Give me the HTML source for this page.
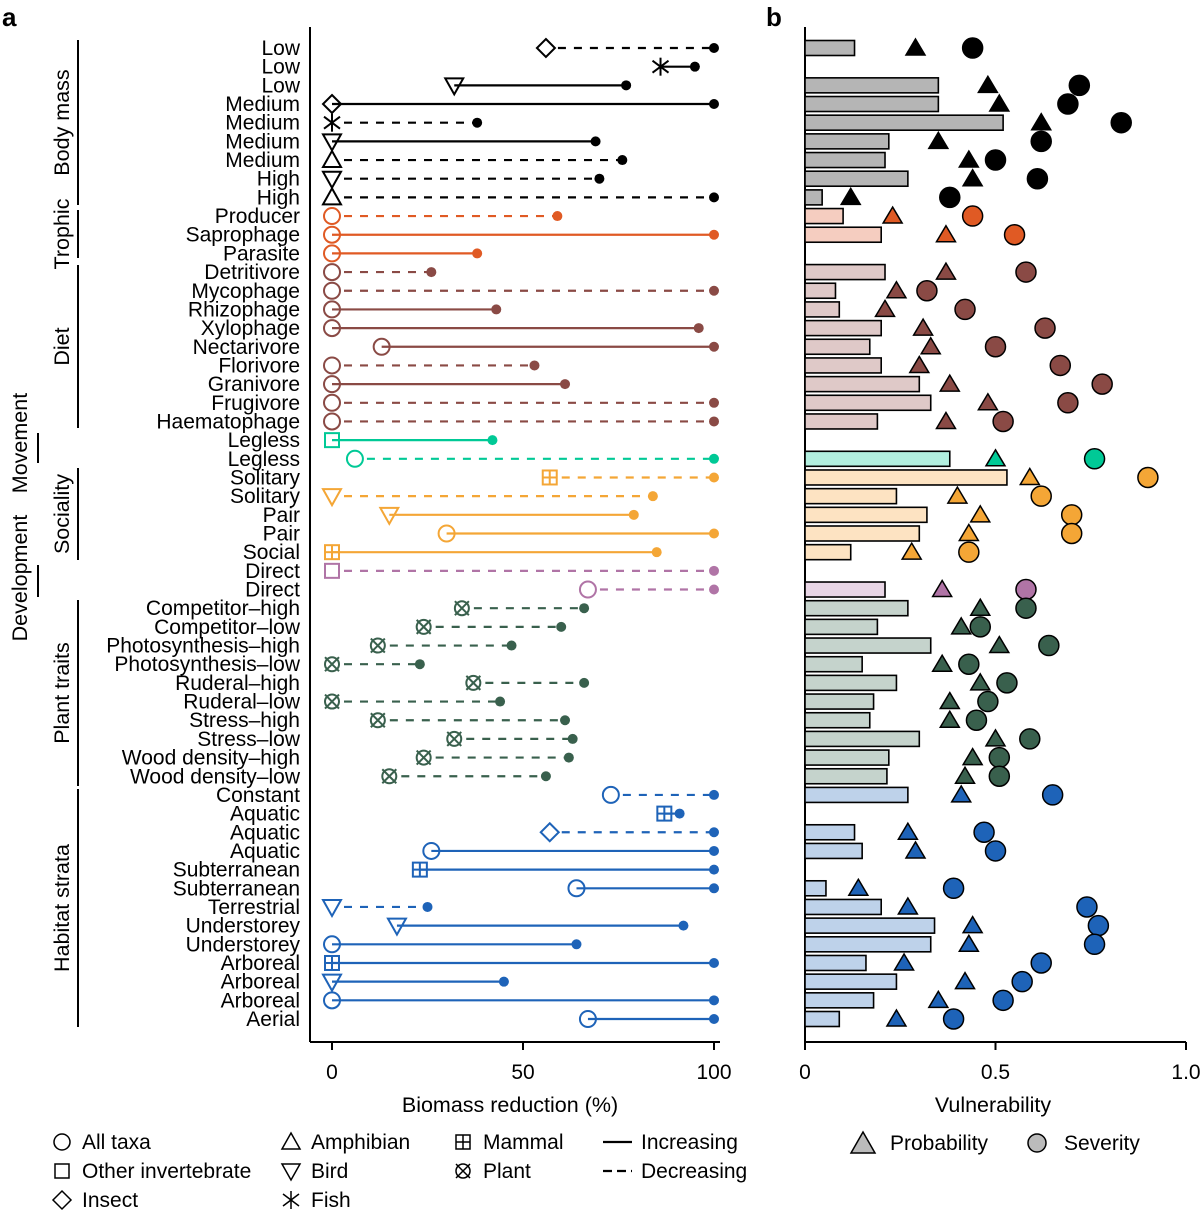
<!DOCTYPE html>
<html><head><meta charset="utf-8"><style>
html,body{margin:0;padding:0;background:#fff;}
svg{display:block;font-family:"Liberation Sans",Arial,sans-serif;}
</style></head><body>
<svg id="chart" width="1200" height="1212" viewBox="0 0 1200 1212" xmlns="http://www.w3.org/2000/svg">
<text x="2" y="26" font-size="26" font-weight="bold">a</text>
<text x="766" y="26" font-size="26" font-weight="bold">b</text>
<g id="groups"></g>
<g id="pa"></g>
<g id="pb"></g>
<g id="legend"></g>
</svg>
<script>
const labels=["Low","Low","Low","Medium","Medium","Medium","Medium","High","High","Producer","Saprophage","Parasite","Detritivore","Mycophage","Rhizophage","Xylophage","Nectarivore","Florivore","Granivore","Frugivore","Haematophage","Legless","Legless","Solitary","Solitary","Pair","Pair","Social","Direct","Direct","Competitor\u2013high","Competitor\u2013low","Photosynthesis\u2013high","Photosynthesis\u2013low","Ruderal\u2013high","Ruderal\u2013low","Stress\u2013high","Stress\u2013low","Wood density\u2013high","Wood density\u2013low","Constant","Aquatic","Aquatic","Aquatic","Subterranean","Subterranean","Terrestrial","Understorey","Understorey","Arboreal","Arboreal","Arboreal","Aerial"];
const groups=["k","k","k","k","k","k","k","k","k","o","o","o","d","d","d","d","d","d","d","d","d","t","t","s","s","s","s","s","p","p","g","g","g","g","g","g","g","g","g","g","b","b","b","b","b","b","b","b","b","b","b","b","b"];
const taxa=["ins","fish","bird","ins","fish","bird","amph","bird","amph","all","all","all","all","all","all","all","all","all","all","all","all","inv","all","mam","bird","bird","all","mam","inv","all","plant","plant","plant","plant","plant","plant","plant","plant","plant","plant","all","mam","ins","all","mam","all","bird","bird","all","mam","bird","all","all"];
const startVals=[56,86,32,0,0,0,0,0,0,0,0,0,0,0,0,0,13,0,0,0,0,0,6,57,0,15,30,0,0,67,34,24,12,0,37,0,12,32,24,15,73,87,57,26,23,64,0,17,0,0,0,0,67];
const endVals=[100,95,77,100,38,69,76,70,100,59,100,38,26,100,43,96,100,53,61,100,100,42,100,100,84,79,100,85,100,100,66,60,47,23,66,44,61,63,62,56,100,91,100,100,100,100,25,92,64,100,45,100,100];
const trend=["dec","inc","inc","inc","dec","inc","dec","dec","dec","dec","inc","inc","dec","dec","inc","inc","inc","dec","inc","dec","dec","inc","dec","dec","dec","inc","inc","inc","dec","dec","dec","dec","dec","dec","dec","dec","dec","dec","dec","dec","dec","inc","dec","inc","inc","inc","dec","inc","inc","inc","inc","inc","inc"];
const barVals=[.13,null,.35,.35,.52,.22,.21,.27,.045,.10,.20,null,.21,.08,.09,.20,.17,.20,.30,.33,.19,null,.38,.53,.24,.32,.30,.12,null,.21,.27,.19,.33,.15,.24,.18,.17,.30,.22,.215,.27,null,.13,.15,null,.055,.20,.34,.33,.16,.24,.18,.09];
const probVals=[.29,null,.48,.51,.62,.35,.43,.44,.12,.23,.37,null,.37,.24,.21,.31,.33,.30,.38,.48,.37,null,.50,.59,.40,.46,.43,.28,null,.36,.46,.41,.51,.36,.46,.38,.38,.50,.44,.42,.41,null,.27,.29,null,.14,.27,.44,.43,.26,.42,.35,.24];
const sevVals=[.44,null,.72,.69,.83,.62,.50,.61,.38,.44,.55,null,.58,.32,.42,.63,.50,.67,.78,.69,.52,null,.76,.90,.62,.70,.70,.43,null,.58,.58,.46,.64,.43,.53,.48,.45,.59,.51,.51,.65,null,.47,.50,null,.39,.74,.77,.76,.62,.57,.52,.39];
const xTicksA=[0,50,100], xTicksB=[0,0.5,1.0], xTickLabB=["0","0.5","1.0"];
const COL={k:"#000000",o:"#e05a24",d:"#8a4a45",t:"#00c996",s:"#f4a636",p:"#b074a6",g:"#39604d",b:"#1e63b8"};
const BAR={k:"#b5b5b5",o:"#f5cdc0",d:"#dfc9c8",t:"#b2efdf",s:"#fde3c2",p:"#e8d5e5",g:"#c5d3cc",b:"#bed2ea"};
const NS="http://www.w3.org/2000/svg";
function mk(tag,attrs,parent){const e=document.createElementNS(NS,tag);for(const k in attrs)e.setAttribute(k,attrs[k]);parent.appendChild(e);return e;}
const xA=v=>332+v*3.82, xB=v=>805+v*381, yR=i=>48+i*(1019-48)/52;
const pa=document.getElementById('pa'), pb=document.getElementById('pb'), gl=document.getElementById('groups'), lg=document.getElementById('legend');

function marker(t,x,y,c,parent,sw){
  sw=sw||2;const g=mk('g',{},parent);const s=8;
  const base={fill:"#fff",stroke:c,"stroke-width":sw};
  if(t==="all"){mk('circle',Object.assign({cx:x,cy:y,r:s},base),g);}
  else if(t==="inv"){mk('rect',Object.assign({x:x-s+1,y:y-s+1,width:2*s-2,height:2*s-2},base),g);}
  else if(t==="ins"){mk('polygon',Object.assign({points:`${x},${y-s-1} ${x+s+1},${y} ${x},${y+s+1} ${x-s-1},${y}`},base),g);}
  else if(t==="amph"){mk('polygon',Object.assign({points:`${x},${y-s-1} ${x+s+1},${y+s-1} ${x-s-1},${y+s-1}`},base),g);}
  else if(t==="bird"){mk('polygon',Object.assign({points:`${x-s-1},${y-s+1} ${x+s+1},${y-s+1} ${x},${y+s+1}`},base),g);}
  else if(t==="fish"){const a={stroke:c,"stroke-width":sw};mk('line',Object.assign({x1:x,y1:y-s-1,x2:x,y2:y+s+1},a),g);mk('line',Object.assign({x1:x-s,y1:y-s+2,x2:x+s,y2:y+s-2},a),g);mk('line',Object.assign({x1:x-s,y1:y+s-2,x2:x+s,y2:y-s+2},a),g);}
  else if(t==="mam"){mk('rect',Object.assign({x:x-s+1,y:y-s+1,width:2*s-2,height:2*s-2},base),g);const a={stroke:c,"stroke-width":sw};mk('line',Object.assign({x1:x,y1:y-s+1,x2:x,y2:y+s-1},a),g);mk('line',Object.assign({x1:x-s+1,y1:y,x2:x+s-1,y2:y},a),g);}
  else if(t==="plant"){mk('circle',Object.assign({cx:x,cy:y,r:s-1},base),g);const a={stroke:c,"stroke-width":sw};const d=s-1;mk('line',Object.assign({x1:x-d,y1:y-d,x2:x+d,y2:y+d},a),g);mk('line',Object.assign({x1:x-d,y1:y+d,x2:x+d,y2:y-d},a),g);}
  return g;
}

// axes panel a
mk('line',{x1:310,y1:27,x2:310,y2:1042,stroke:"#000","stroke-width":2},pa);
mk('line',{x1:310,y1:1042,x2:720,y2:1042,stroke:"#000","stroke-width":2},pa);
xTicksA.forEach(v=>{mk('line',{x1:xA(v),y1:1042,x2:xA(v),y2:1050,stroke:"#000","stroke-width":2},pa);
  const t=mk('text',{x:xA(v),y:1079,"font-size":21,"text-anchor":"middle"},pa);t.textContent=v;
  
  });
const xt=mk('text',{x:510,y:1112,"font-size":21.5,"text-anchor":"middle"},pa);xt.textContent="Biomass reduction (%)";



// axes panel b
mk('line',{x1:805,y1:27,x2:805,y2:1042,stroke:"#000","stroke-width":2},pb);
mk('line',{x1:805,y1:1042,x2:1186,y2:1042,stroke:"#000","stroke-width":2},pb);
xTicksB.forEach((v,i)=>{mk('line',{x1:xB(v),y1:1042,x2:xB(v),y2:1050,stroke:"#000","stroke-width":2},pb);
  const t=mk('text',{x:xB(v),y:1079,"font-size":21,"text-anchor":"middle"},pb);t.textContent=xTickLabB[i];
  
  });
const xt2=mk('text',{x:993,y:1112,"font-size":21.5,"text-anchor":"middle"},pb);xt2.textContent="Vulnerability";



labels.forEach((lab,i)=>{
  const y=yR(i), c=COL[groups[i]];
  const t=mk('text',{x:300,y:y+7,"font-size":21,"text-anchor":"end"},pa);t.textContent=lab;
  
  
  const g=mk('g',{},pa);
  
  
  marker(taxa[i],xA(startVals[i]),y,c,g);
  const ln=mk('line',{x1:xA(startVals[i]),y1:y,x2:xA(endVals[i]),y2:y,stroke:c,"stroke-width":2.2},g);
  if(trend[i]==="dec"){ln.setAttribute('stroke-dasharray','8 8');ln.setAttribute('x1',xA(startVals[i])+12);}
  mk('circle',{cx:xA(endVals[i]),cy:y,r:5,fill:c},g);
  if(barVals[i]!==null){
    const r=mk('rect',{x:805,y:y-7.5,width:barVals[i]*381,height:15,fill:BAR[groups[i]],stroke:"#000","stroke-width":1.6},pb);
    
    
  }
  if(probVals[i]!==null){
    const px=xB(probVals[i]);
    const p=mk('polygon',{points:`${px},${y-9} ${px+9.5},${y+7} ${px-9.5},${y+7}`,fill:c,stroke:"#000","stroke-width":1.5},pb);
    
    
  }
  if(sevVals[i]!==null){
    const s=mk('circle',{cx:xB(sevVals[i]),cy:y,r:10,fill:c,stroke:"#000","stroke-width":1.5},pb);
    
    
  }
});

// group labels
const grpDefs=[["Body mass",78,40,205,62],["Trophic",78,210,258,62],["Diet",78,265,428,62],["Movement",38,433,463,20],["Sociality",78,468,560,62],["Development",38,565,597,20],["Plant traits",78,600,786,62],["Habitat strata",78,789,1027,62]];
grpDefs.forEach(d=>{
  mk('line',{x1:d[1],y1:d[2],x2:d[1],y2:d[3],stroke:"#000","stroke-width":2},gl);
  const cy=(d[0]==="Movement")?443:(d[0]==="Development")?578:(d[2]+d[3])/2;
  const t=mk('text',{x:d[4]+7,y:cy,"font-size":21.5,"text-anchor":"middle",transform:`rotate(-90 ${d[4]+7} ${cy})`},gl);
  t.textContent=d[0];
  
  
});

// legend
const leg=[["all","All taxa",62,1142],["inv","Other invertebrate",62,1171],["ins","Insect",62,1200],["amph","Amphibian",291,1142],["bird","Bird",291,1171],["fish","Fish",291,1200],["mam","Mammal",463,1142],["plant","Plant",463,1171]];
leg.forEach(l=>{
  const g=mk('g',{},lg);
  
  
  marker(l[0],l[2],l[3],"#000",g,1.5);
  const t=mk('text',{x:l[2]+20,y:l[3]+7,"font-size":21},g);t.textContent=l[1];
});
[["Increasing",1142,null],["Decreasing",1171,"9 5"]].forEach(l=>{
  const g=mk('g',{},lg);
  
  
  const ln=mk('line',{x1:603,y1:l[1],x2:632,y2:l[1],stroke:"#000","stroke-width":2.2},g);
  if(l[2])ln.setAttribute('stroke-dasharray',l[2]);
  const t=mk('text',{x:641,y:l[1]+7,"font-size":21},g);t.textContent=l[0];
});
{const g=mk('g',{},lg);
 
 
 mk('polygon',{points:"863,1132 875,1153 851,1153",fill:"#bbb",stroke:"#000","stroke-width":1.5},g);
 const t=mk('text',{x:890,y:1150,"font-size":21},g);t.textContent="Probability";}
{const g=mk('g',{},lg);
 
 
 mk('circle',{cx:1037,cy:1143,r:9,fill:"#bbb",stroke:"#000","stroke-width":1.5},g);
 const t=mk('text',{x:1064,y:1150,"font-size":21},g);t.textContent="Severity";}
</script>
</body></html>
